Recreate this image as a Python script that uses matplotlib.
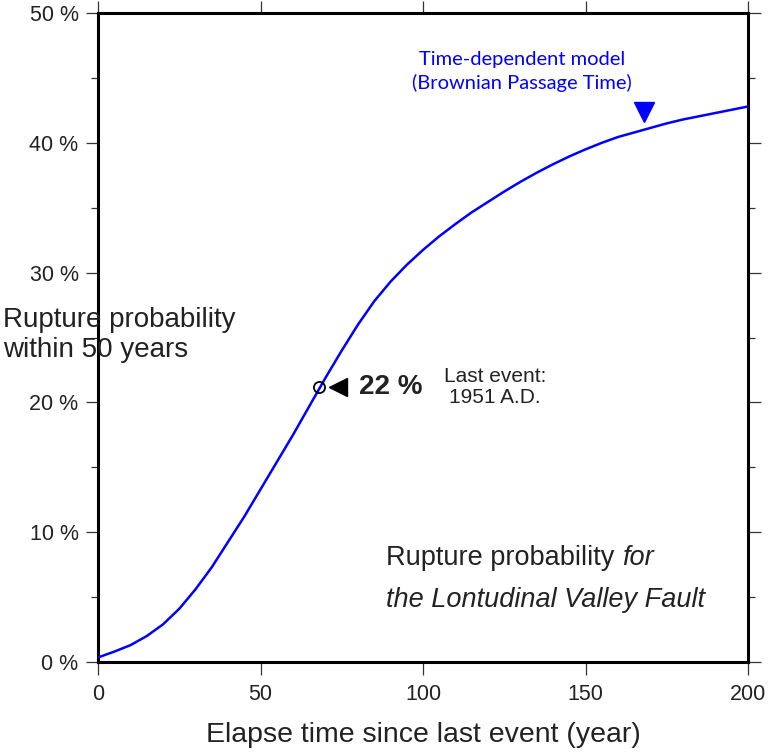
import matplotlib
matplotlib.use("Agg")
import matplotlib.pyplot as plt
from matplotlib.ticker import MultipleLocator, FuncFormatter

# elapse time since last event (year) and rupture probability within 50 years (%)
years = [0, 5, 10, 15, 20, 25, 30, 35, 40, 45, 50, 55, 60, 65, 70, 75, 80, 85, 90, 95, 100,
         105, 110, 115, 120, 125, 130, 135, 140, 145, 150, 155, 160, 165, 170, 175, 180, 185, 190, 195, 200]
prob = [0.35, 0.8, 1.3, 2.0, 2.9, 4.1, 5.6, 7.3, 9.25, 11.2, 13.3, 15.4, 17.5, 19.7, 21.9, 24.0, 26.0, 27.8, 29.3, 30.6, 31.75,
        32.8, 33.75, 34.65, 35.45, 36.25, 37.0, 37.7, 38.35, 38.95, 39.5, 40.0, 40.45, 40.8, 41.15, 41.5, 41.8, 42.05, 42.3, 42.55, 42.8]

last_event_year = 68
last_event_prob = 21.2
model_mark_year = 168
model_mark_prob = 42.4

plt.rcParams['font.family'] = ['Liberation Sans', 'DejaVu Sans']

fig = plt.figure(figsize=(7.68, 7.54), dpi=100)
ax = fig.add_axes([0.1276, 0.122, 0.8464, 0.8607])

ax.plot(years, prob, color='#0000ff', lw=1.8, zorder=3, solid_joinstyle='round')

# last event marker
ax.plot(last_event_year, last_event_prob, 'o', mfc='none', mec='black', ms=8, mew=1.3, zorder=4)
ax.plot(last_event_year + 5.8, last_event_prob, '<', color='black', ms=13, zorder=4)
ax.text(last_event_year + 12.3, last_event_prob, '22 %', fontsize=20, fontweight='bold',
        va='center', ha='left', color='#222222')
ax.text(122.2, last_event_prob, 'Last event:\n1951 A.D.', fontsize=15, va='center', ha='center',
        linespacing=1.15, color='#222222')

# model label
ax.text(130.5, 45.5, 'Time-dependent model\n(Brownian Passage Time)', color='#0000ff',
        fontsize=14.5, family=['Lato', 'DejaVu Sans'], ha='center', va='center', linespacing=1.45)
ax.plot(model_mark_year, model_mark_prob, 'v', color='#0000ff', ms=14, zorder=4)

# note inside the axes
t1 = ax.text(88.6, 8.0, 'Rupture probability ', fontsize=19.5, va='center', ha='left', color='#222222')
ax.annotate('for', xy=(1, 0), xycoords=t1, va='bottom', ha='left', fontsize=19.5,
            style='italic', color='#222222')
ax.text(88.6, 4.8, 'the Lontudinal Valley Fault', fontsize=19.5, style='italic',
        va='center', ha='left', color='#222222')

# y axis label on the left
fig.text(0.004, 0.556, 'Rupture probability\nwithin 50 years', fontsize=20, ha='left', va='center',
         linespacing=1.2, color='#222222')

ax.set_xlim(0, 200)
ax.set_ylim(0, 50)
ax.xaxis.set_major_locator(MultipleLocator(50))
ax.yaxis.set_major_locator(MultipleLocator(10))
ax.yaxis.set_minor_locator(MultipleLocator(5))
ax.yaxis.set_major_formatter(FuncFormatter(lambda v, p: '{:.0f} %'.format(v)))

ax.tick_params(which='both', direction='out', top=True, right=True, width=0.9, color='#333333',
               labelsize=15.5, labelcolor='#222222')
ax.tick_params(which='major', length=9)
ax.tick_params(which='minor', length=5)
ax.tick_params(axis='x', pad=7)
ax.tick_params(axis='y', pad=5)

for s in ax.spines.values():
    s.set_linewidth(2.2)
    s.set_color('black')

ax.set_xlabel('Elapse time since last event (year)', fontsize=20.5, labelpad=12, color='#222222')

plt.savefig('out.png', dpi=100)
